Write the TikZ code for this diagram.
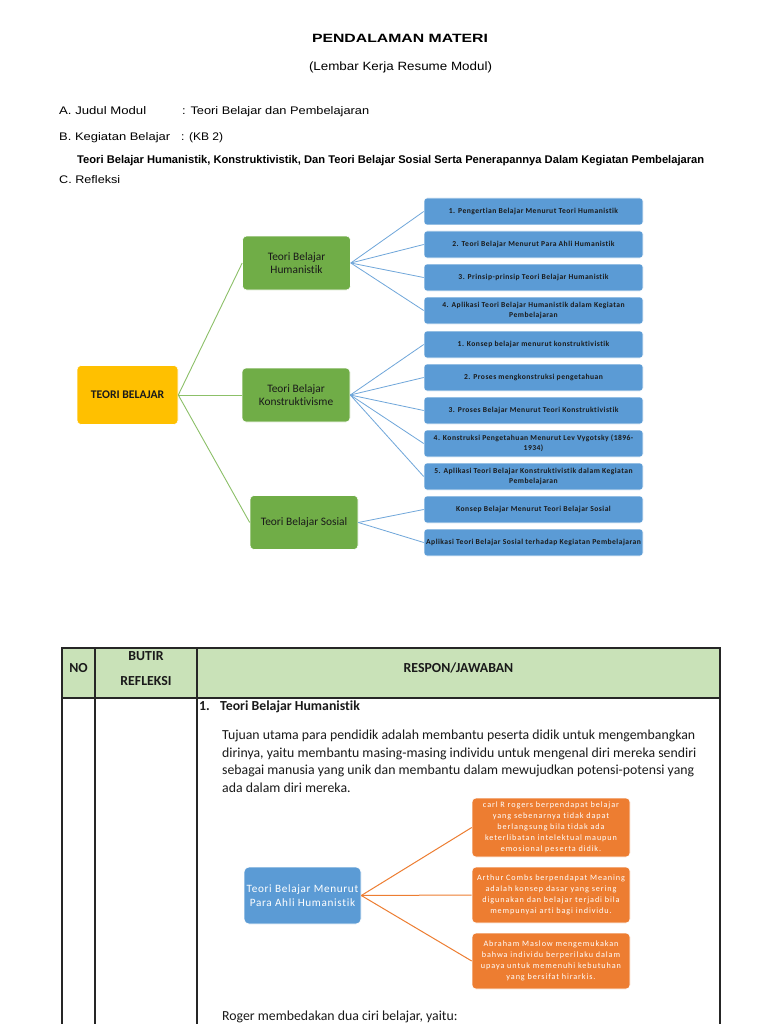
\documentclass[tikz,border=0pt]{standalone}
\usepackage{fontspec}
\setmainfont{Liberation Sans}
\newfontfamily\calib[Ligatures=NoCommon]{Carlito}
\newfontfamily\calibsp[LetterSpace=11,Ligatures=NoCommon]{Carlito}
\newfontfamily\calibbsp[LetterSpace=6,Ligatures=NoCommon]{Carlito}
\definecolor{myyellow}{HTML}{FFC000}
\definecolor{mygreen}{HTML}{70AD47}
\definecolor{myblue}{HTML}{5B9BD5}
\definecolor{myorange}{HTML}{ED7D31}
\definecolor{hdrgreen}{HTML}{C9E2B8}
\definecolor{glink}{HTML}{8CC068}
\definecolor{blink}{HTML}{6FA6DA}
\definecolor{darktext}{HTML}{1A1A1A}
\newcommand\fitw[2]{\resizebox{#1}{\height}{#2}}
\tikzset{
  rootbox/.style={fill=myyellow, draw=white, line width=0.6pt, rounded corners=4pt, minimum width=101pt, minimum height=59pt, font=\calib\bfseries\fontsize{11.7}{13}\selectfont, text=darktext, align=center, inner sep=1pt},
  greenbox/.style={fill=mygreen, draw=white, line width=0.6pt, rounded corners=4pt, minimum width=108pt, minimum height=54pt, font=\calib\fontsize{11.4}{13.5}\selectfont, text=darktext, align=center, inner sep=1pt},
  bluebox/.style={fill=myblue, draw=white, line width=0.6pt, rounded corners=3pt, minimum width=219pt, minimum height=27pt, font=\calibbsp\bfseries\fontsize{7.6}{10.5}\selectfont, text=darktext, align=center, inner sep=1pt},
  orangebox/.style={fill=myorange, draw=white, line width=0.6pt, rounded corners=4pt, minimum width=158pt, font=\calibsp\fontsize{8.2}{11}\selectfont, text=white, align=center, inner sep=1pt},
  ahlibox/.style={fill=myblue, draw=white, line width=0.6pt, rounded corners=5pt, minimum width=117pt, minimum height=57pt, font=\calibbsp\fontsize{11.2}{14}\selectfont, text=white, align=center, inner sep=1pt},
  glinkst/.style={draw=glink, line width=0.9pt},
  blinkst/.style={draw=blink, line width=0.8pt},
  olinkst/.style={draw=myorange, line width=1pt},
  tblline/.style={draw=black!85, line width=1.1pt},
  hdrtext/.style={font=\calib\bfseries\fontsize{13.8}{15}\selectfont, text=darktext},
  bodytext/.style={font=\calib\fontsize{13.8}{16}\selectfont, anchor=base west, inner sep=0pt, text=darktext},
  headtext/.style={font=\fontsize{11}{13}\selectfont, anchor=base west, inner sep=0pt}
}
\begin{document}
\begin{tikzpicture}[x=1pt,y=-1pt]
\useasboundingbox[fill=white] (0,0) rectangle (768,1024);

% ---------- header ----------
\node[inner sep=0pt, anchor=base] (title) at (400,42.5) {\fitw{176pt}{\bfseries\fontsize{12}{14}\selectfont PENDALAMAN MATERI}};
\node[inner sep=0pt, anchor=base] (subtitle) at (400.5,70.5) {\fitw{183pt}{\fontsize{12}{14}\selectfont (Lembar Kerja Resume Modul)}};
\node[headtext] (lblA) at (59,115) {\fitw{87pt}{A.\ Judul Modul}};
\node[headtext] (valA) at (182,115) {\fitw{187pt}{: Teori Belajar dan Pembelajaran}};
\node[headtext] (lblB) at (59,140.5) {\fitw{111pt}{B.\ Kegiatan Belajar}};
\node[headtext] (valB) at (181,140.5) {\fitw{42pt}{: (KB 2)}};
\node[anchor=base west, inner sep=0pt] (kbtitle) at (77,163.5) {\resizebox{627pt}{!}{\bfseries\fontsize{10}{12}\selectfont Teori Belajar Humanistik, Konstruktivistik, Dan Teori Belajar Sosial Serta Penerapannya Dalam Kegiatan Pembelajaran}};
\node[headtext] (lblC) at (59,184) {\fitw{61pt}{C.\ Refleksi}};

% ---------- mind map ----------
\node[rootbox] (root) at (127.5,395) {TEORI BELAJAR};
\node[greenbox] (hum) at (296.5,263) {Teori Belajar\\Humanistik};
\node[greenbox] (kon) at (296,395) {Teori Belajar\\Konstruktivisme};
\node[greenbox] (sos) at (304,522.5) {Teori Belajar Sosial};

\node[bluebox] (h1) at (533.5,211.5) {1. Pengertian Belajar Menurut Teori Humanistik};
\node[bluebox] (h2) at (533.5,244.5) {2. Teori Belajar Menurut Para Ahli Humanistik};
\node[bluebox] (h3) at (533.5,277.5) {3. Prinsip-prinsip Teori Belajar Humanistik};
\node[bluebox] (h4) at (533.5,310.5) {4. Aplikasi Teori Belajar Humanistik dalam Kegiatan\\Pembelajaran};
\node[bluebox] (k1) at (533.5,344.5) {1. Konsep belajar menurut konstruktivistik};
\node[bluebox] (k2) at (533.5,377.5) {2. Proses mengkonstruksi pengetahuan};
\node[bluebox] (k3) at (533.5,410.5) {3. Proses Belajar Menurut Teori Konstruktivistik};
\node[bluebox] (k4) at (533.5,443.5) {4. Konstruksi Pengetahuan Menurut Lev Vygotsky (1896-\\1934)};
\node[bluebox] (k5) at (533.5,476.5) {5. Aplikasi Teori Belajar Konstruktivistik dalam Kegiatan\\Pembelajaran};
\node[bluebox] (s1) at (533.5,509.5) {Konsep Belajar Menurut Teori Belajar Sosial};
\node[bluebox] (s2) at (533.5,542.5) {Aplikasi Teori Belajar Sosial terhadap Kegiatan Pembelajaran};

\foreach \g in {hum,kon,sos} \draw[glinkst] (root.east) -- (\g.west);
\foreach \b in {h1,h2,h3,h4} \draw[blinkst] (hum.east) -- (\b.west);
\foreach \b in {k1,k2,k3,k4,k5} \draw[blinkst] (kon.east) -- (\b.west);
\foreach \b in {s1,s2} \draw[blinkst] (sos.east) -- (\b.west);

% ---------- table ----------
\fill[hdrgreen] (62,648) rectangle (720,698);
\draw[tblline] (62,1030) -- (62,648) -- (720,648) -- (720,1030);
\draw[tblline] (62,698) -- (720,698);
\draw[tblline] (95,648) -- (95,1030);
\draw[tblline] (197,648) -- (197,1030);

\node[hdrtext] (hno) at (78.5,668) {NO};
\node[hdrtext] (hbutir) at (146,656) {BUTIR};
\node[hdrtext] (hrefl) at (146,681) {REFLEKSI};
\node[hdrtext] (hresp) at (458.5,668) {RESPON/JAWABAN};

\node[bodytext, font=\calib\bfseries\fontsize{13.8}{16}\selectfont] (num1) at (199,710.5) {1.};
\node[bodytext, font=\calib\bfseries\fontsize{13.8}{16}\selectfont] (sec1) at (220,710.5) {Teori Belajar Humanistik};
\node[bodytext] (p1) at (222,739.5) {Tujuan utama para pendidik adalah membantu peserta didik untuk mengembangkan};
\node[bodytext] (p2) at (222,757) {dirinya, yaitu membantu masing-masing individu untuk mengenal diri mereka sendiri};
\node[bodytext] (p3) at (222,774.5) {sebagai manusia yang unik dan membantu dalam mewujudkan potensi-potensi yang};
\node[bodytext] (p4) at (222,792) {ada dalam diri mereka.};

\node[ahlibox] (ahli) at (302.5,895.5) {Teori Belajar Menurut\\Para Ahli Humanistik};
\node[orangebox, minimum height=59pt] (o1) at (551,827.5) {carl R rogers berpendapat belajar\\yang sebenarnya tidak dapat\\berlangsung bila tidak ada\\keterlibatan intelektual maupun\\emosional peserta didik.};
\node[orangebox, minimum height=56pt] (o2) at (551,895) {Arthur Combs berpendapat Meaning\\adalah konsep dasar yang sering\\digunakan dan belajar terjadi bila\\mempunyai arti bagi individu.};
\node[orangebox, minimum height=56pt] (o3) at (551,961) {Abraham Maslow mengemukakan\\bahwa individu berperilaku dalam\\upaya untuk memenuhi kebutuhan\\yang bersifat hirarkis.};
\foreach \o in {o1,o2,o3} \draw[olinkst] (ahli.east) -- (\o.west);

\node[bodytext] (roger) at (222,1020) {Roger membedakan dua ciri belajar, yaitu:};
\end{tikzpicture}
\end{document}
